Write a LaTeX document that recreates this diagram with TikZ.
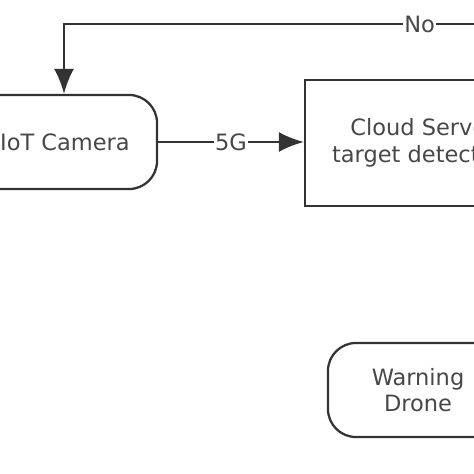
\documentclass[tikz,border=0pt]{standalone}
\usepackage{fontspec}
\setmainfont{DejaVu Sans}
\usepackage{tikz}
\usetikzlibrary{arrows.meta,positioning,calc}
\tikzset{>={Latex[length=0.625cm,width=0.5cm]}}
\definecolor{linegray}{HTML}{333333}
\definecolor{textgray}{HTML}{474747}
\tikzset{
  box/.style={draw=linegray,line width=1.6pt,text=textgray,align=center,
    font=\fontsize{16}{19}\selectfont,inner sep=0pt},
  roundbox/.style={box,rounded corners=0.7cm},
  lbl/.style={fill=white,text=textgray,inner sep=1pt,
    font=\fontsize{16}{18}\selectfont},
  link/.style={draw=linegray,line width=1.6pt,->},
}

\begin{document}
\begin{tikzpicture}[x=0.025cm,y=-0.025cm]
      \useasboundingbox (0,0) rectangle (474,474);
      \clip (0,0) rectangle (474,474);

      \node [roundbox,minimum width=4.6cm,minimum height=2.35cm] (iot) at (65,142) {IoT Camera};
      \node [box,minimum width=5.9cm,minimum height=3.15cm] (cloud) at (423,143) {Cloud Server\\target detection};
      \node [roundbox,minimum width=4.5cm,minimum height=2.35cm] (warn) at (418,390) {Warning\\Drone};

      \draw [link] (iot.east) -- node [lbl] {5G} (iot.east -| cloud.west);

      \coordinate (noend) at (490,24);
      \coordinate (camtop) at (64,0);
      \draw [link] (noend) -- node [lbl,pos=0.165] {No} (camtop |- noend) -- (camtop |- iot.north);
\end{tikzpicture}
\end{document}
